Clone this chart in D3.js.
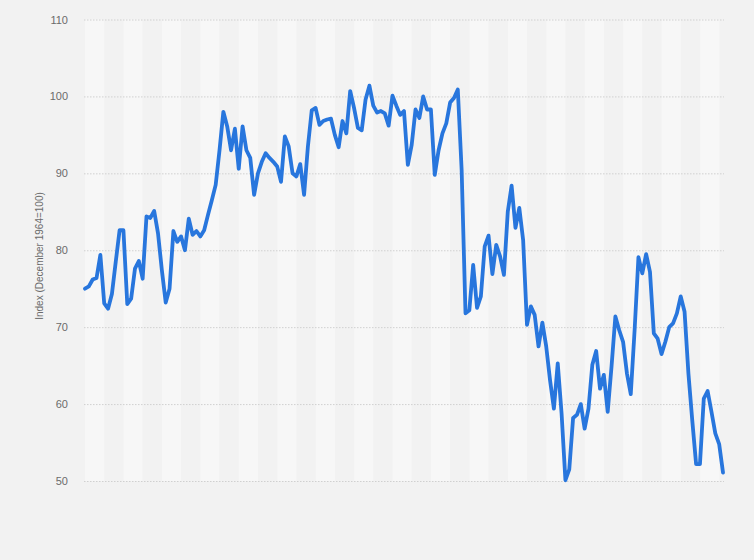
<!DOCTYPE html>
<html>
<head>
<meta charset="utf-8">
<script src="https://cdn.jsdelivr.net/npm/d3@7"></script>
<style>
  html, body { margin: 0; padding: 0; background: #f2f2f2; }
  svg { display: block; }
  text { font-family: "Liberation Sans", Arial, sans-serif; }
</style>
</head>
<body>
<svg id="chart" width="754" height="560"></svg>
<script>
// ---- data ----
const yTicks = [50, 60, 70, 80, 90, 100, 110];
const yTitle = "Index (December 1964=100)";
const bandCount = 33;
const values = [
  75.0, 75.3, 76.2, 76.4, 79.4, 73.1, 72.4, 74.3, 78.5, 82.6, 82.6, 73.0, 73.7, 77.6, 78.6, 76.3,
  84.4, 84.2, 85.1, 82.2, 77.4, 73.2, 75.0, 82.5, 81.1, 81.8, 80.0, 84.1, 82.0, 82.5, 81.8, 82.6,
  84.6, 86.5, 88.5, 93.0, 98.0, 96.1, 93.0, 95.8, 90.6, 96.1,
  93.0, 92.0, 87.2, 90.0, 91.5, 92.6, 92.0, 91.5, 90.9, 88.9, 94.8, 93.5, 90.0, 89.6, 91.2, 87.2,
  93.5, 98.2, 98.5, 96.3, 96.8, 97.0, 97.1, 95.0, 93.4, 96.8, 95.2, 100.7, 98.5, 95.9, 95.6, 99.6,
  101.4, 98.8, 97.9, 98.1, 97.8, 96.2, 100.1, 98.8, 97.6, 98.1, 91.1,
  93.7, 98.3, 97.2, 100.0, 98.3, 98.3, 89.8, 93.0, 95.2, 96.5, 99.2, 99.8, 100.9, 90.4, 71.8, 72.2,
  78.1, 72.5, 74.0, 80.5, 81.9, 76.9, 80.7, 79.2, 76.8, 85.0, 88.4, 82.9, 85.5, 81.3, 70.3, 72.7,
  71.6, 67.5, 70.6, 67.5, 63.1, 59.4, 65.3, 58.8, 50.1,
  51.5, 58.2, 58.6, 60.0, 56.8, 59.4, 65.1, 66.9, 62.0, 63.8, 59.0, 64.9, 71.4, 69.6, 68.1, 64.0,
  61.3, 69.6, 79.1, 77.0, 79.5, 77.2, 69.2, 68.5, 66.5, 68.1, 70.0, 70.5, 71.8, 74.0, 72.0, 64.0,
  57.9, 52.2, 52.2, 60.7, 61.7, 59.0, 56.2, 54.8, 51.1
];

// ---- layout ----
const svg = d3.select("#chart");
const plotLeft = 84, plotRight = 724, plotTop = 19.5, plotBottom = 481;
const lineLeft = 85, lineRight = 723;
const bandRight = 719.3;

svg.append("rect").attr("x", 0).attr("y", 0).attr("width", 754).attr("height", 560).attr("fill", "#f2f2f2");

const y = d3.scaleLinear().domain([50, 110]).range([plotBottom, plotTop]);
const x = d3.scaleLinear().domain([0, values.length - 1]).range([lineLeft, lineRight]);
const xb = d3.scaleBand().domain(d3.range(bandCount)).range([lineLeft, bandRight]).padding(0);

// alternating bands
svg.append("g").selectAll("rect").data(d3.range(bandCount)).join("rect")
  .attr("x", d => xb(d))
  .attr("y", plotTop)
  .attr("width", xb.bandwidth())
  .attr("height", plotBottom - plotTop)
  .attr("fill", d => d % 2 === 0 ? "#f7f7f7" : "#f2f2f2");

// y axis with gridlines
const yAxis = d3.axisLeft(y).tickValues(yTicks).tickSize(-(plotRight - plotLeft)).tickPadding(16);
const gy = svg.append("g").attr("transform", `translate(${plotLeft},0)`).call(yAxis);
gy.select(".domain").remove();
gy.selectAll(".tick line")
  .attr("stroke", "#d0d0d0")
  .attr("stroke-width", 1)
  .attr("stroke-dasharray", "1.5,1.5");
gy.selectAll(".tick text")
  .attr("fill", "#6b6b6b")
  .attr("font-size", 11);

// y title
svg.append("text")
  .attr("transform", `translate(43,256) rotate(-90)`)
  .attr("text-anchor", "middle")
  .attr("fill", "#6b6b6b")
  .attr("font-size", 10)
  .text(yTitle);

// line
const line = d3.line().x((d, i) => x(i)).y(d => y(d));
svg.append("path")
  .datum(values)
  .attr("fill", "none")
  .attr("stroke", "#2876dd")
  .attr("stroke-width", 3.8)
  .attr("stroke-linejoin", "round")
  .attr("stroke-linecap", "round")
  .attr("d", line);
</script>
</body>
</html>
